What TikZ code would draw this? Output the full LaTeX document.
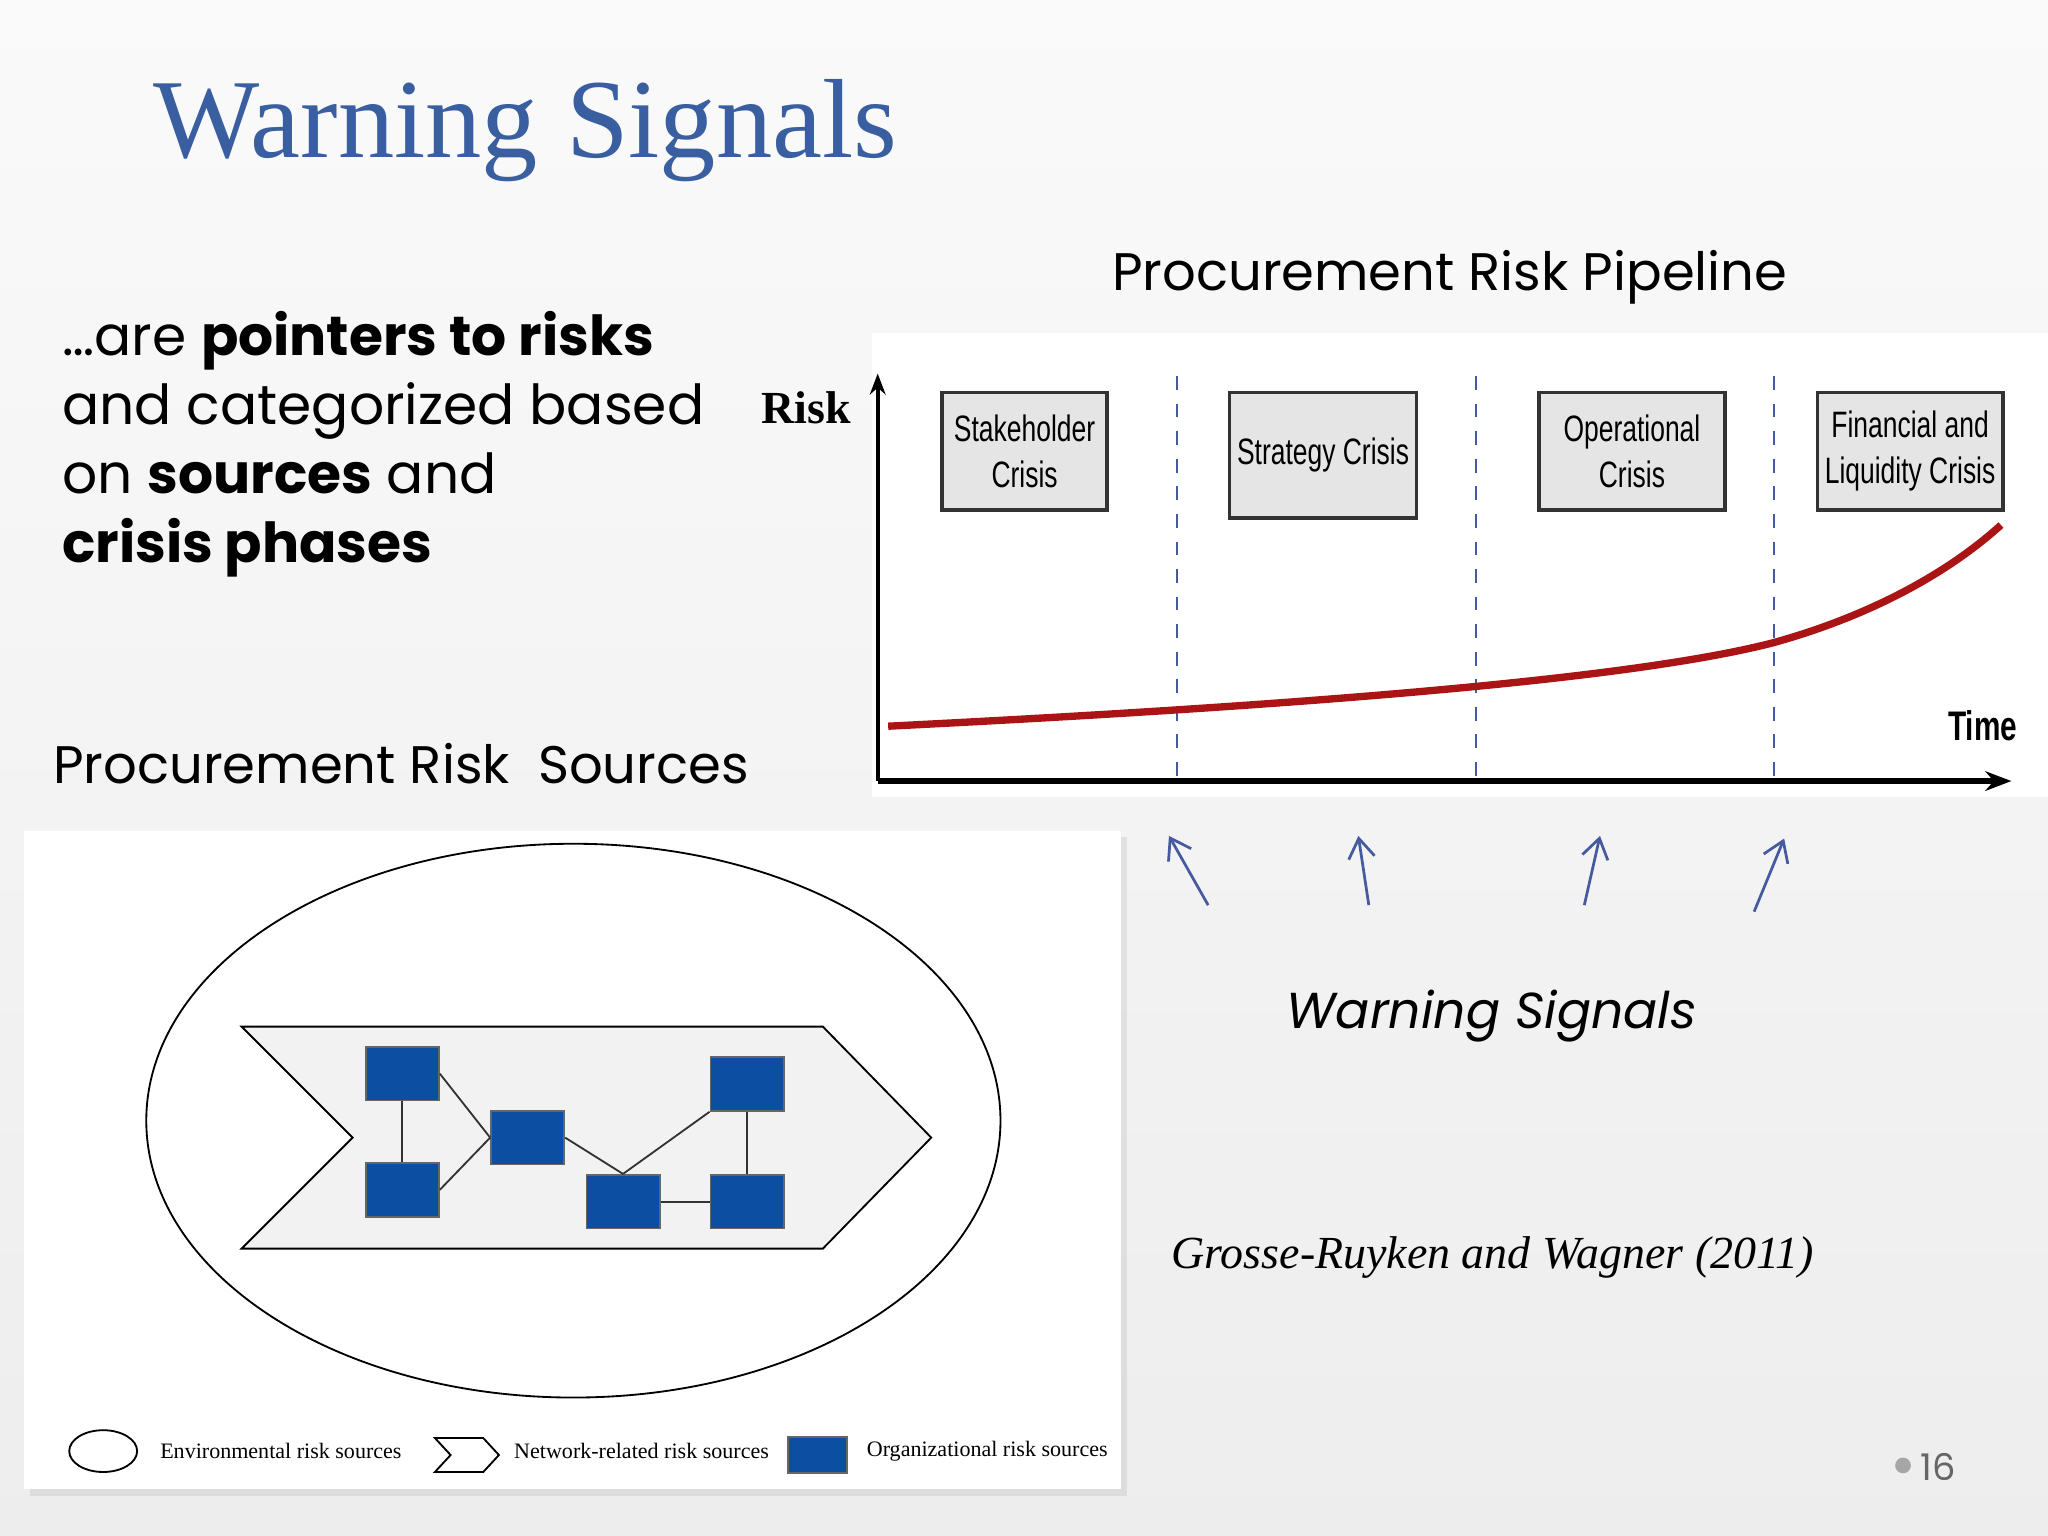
\documentclass[tikz,border=0pt]{standalone}
\usepackage{fontspec}
\setmainfont{Liberation Serif}
\newfontfamily\gothic{Poppins}
\newfontfamily\narrow{Liberation Sans}
\usetikzlibrary{arrows.meta,positioning,calc,shadows}
\definecolor{titleblue}{RGB}{58,95,160}
\definecolor{sqblue}{RGB}{11,78,162}
\definecolor{curvered}{RGB}{170,20,20}
\definecolor{arrowblue}{RGB}{70,90,160}
\newcommand{\cond}[1]{\scalebox{0.72}[1]{#1}}
\tikzset{
  crisis/.style={draw=black!80,fill=gray!20,thick,font=\narrow\fontsize{8}{10}\selectfont,align=center,anchor=north west,inner sep=0pt},
  orgbox/.style={fill=sqblue,draw=black!60,minimum width=0.56cm,minimum height=0.41cm,inner sep=0pt},
  phase/.style={draw=arrowblue,dashed,thin},
  signal/.style={-{Straight Barb[length=1.5mm,width=2mm]},draw=arrowblue,semithick},
  legend/.style={font=\fontsize{4.8}{6}\selectfont,anchor=west,inner sep=0pt},
  link/.style={draw=black!80,thin}
}
\begin{document}
\begin{tikzpicture}[x=0.01cm,y=-0.01cm]
  \useasboundingbox (0,0) rectangle (1568,1176);
  \shade[top color=gray!4,bottom color=gray!14] (0,0) rectangle (1568,1176);

  % Title and left text
  \node[anchor=west,text=titleblue,font=\fontsize{24.5}{28}\selectfont] (title) at (105,100) {Warning Signals};
  \node[anchor=north west,font=\gothic\fontsize{12}{15}\selectfont,align=left,inner sep=0pt] (intro) at (47,238)
    {\dots are \textbf{pointers to risks}\\and categorized based\\on \textbf{sources} and\\\textbf{crisis phases}};

  % Pipeline chart
  \fill[white] (668,255) rectangle (1568,610);
  \node[font=\gothic\fontsize{11.5}{13}\selectfont] (pipetitle) at (1110,212) {Procurement Risk Pipeline};
  \coordinate (origin) at (672,598);
  \coordinate (ytop) at (672,286);
  \coordinate (xend) at (1540,598);
  \draw[-{Stealth[length=1.6mm]},thick] (origin) -- (ytop);
  \draw[-{Stealth[length=2mm]},very thick] (origin) -- (xend);
  \node[font=\bfseries\fontsize{10}{12}\selectfont,anchor=east] (risk) at (664,312) {Risk};
  \node[font=\narrow\bfseries\fontsize{9}{10}\selectfont] (time) at (1518,556) {\cond{Time}};
  \foreach \x in {901,1130,1358}
    \draw[phase] (\x,288) -- (\x,598);
  \node[crisis,minimum width=1.26cm,minimum height=0.9cm] (stake) at (720,299) {\cond{Stakeholder}\\\cond{Crisis}};
  \node[crisis,minimum width=1.43cm,minimum height=0.96cm] (strat) at (940,299) {\cond{Strategy Crisis}};
  \node[crisis,minimum width=1.42cm,minimum height=0.9cm] (oper) at (1177,299) {\cond{Operational}\\\cond{Crisis}};
  \node[crisis,minimum width=1.42cm,minimum height=0.9cm] (fin) at (1390,299) {\cond{Financial and}\\\cond{Liquidity Crisis}};
  \draw[curvered,line width=1.6pt] (680,556) .. controls (1000,540) and (1250,520) .. (1358,492)
    .. controls (1430,472) and (1490,440) .. (1532,402);

  % Warning signal arrows
  \coordinate (s1) at (925,693); \coordinate (t1) at (895,640);
  \coordinate (s2) at (1048,693); \coordinate (t2) at (1040,640);
  \coordinate (s3) at (1213,693); \coordinate (t3) at (1225,640);
  \coordinate (s4) at (1343,698); \coordinate (t4) at (1366,642);
  \foreach \i in {1,...,4}
    \draw[signal] (s\i) -- (t\i);
  \node[font=\gothic\itshape\fontsize{11}{13}\selectfont] (signals) at (1142,778) {Warning Signals};
  \node[font=\itshape\fontsize{10}{12}\selectfont] (cite) at (1143,963) {Grosse-Ruyken and Wagner (2011)};

  % Risk sources panel
  \node[font=\gothic\fontsize{11.5}{13}\selectfont] (srctitle) at (307,585) {Procurement Risk\ \ Sources};
  \fill[white,drop shadow={opacity=0.15,shadow xshift=0.5mm,shadow yshift=-0.5mm}] (18,636) rectangle (858,1140);
  \draw[thin] (439,858) ellipse [x radius=327,y radius=212];
  \draw[thin,fill=gray!10] (185,786) -- (630,786) -- (713,871) -- (630,956) -- (185,956) -- (270,871) -- cycle;
  \node[orgbox] (o1) at (308,822) {};
  \node[orgbox] (o2) at (308,911) {};
  \node[orgbox] (o3) at (404,871) {};
  \node[orgbox] (o4) at (477,920) {};
  \node[orgbox] (o5) at (572,830) {};
  \node[orgbox] (o6) at (572,920) {};
  \draw[link] (o1) -- (o2);
  \draw[link] (o1.east) -- (o3.west);
  \draw[link] (o2.east) -- (o3.west);
  \draw[link] (o3.east) -- (o4.north);
  \draw[link] (o4.north) -- (o5.south west);
  \draw[link] (o4) -- (o6);
  \draw[link] (o5) -- (o6);

  % Legend
  \draw[thin] (79,1111) ellipse [x radius=26,y radius=16];
  \node[legend] (lenv) at (122,1111) {Environmental risk sources};
  \draw[thin] (333,1101) -- (370,1101) -- (382,1114) -- (370,1127) -- (333,1127) -- (345,1114) -- cycle;
  \node[legend] (lnet) at (393,1111) {Network-related risk sources};
  \node[orgbox,minimum width=0.45cm,minimum height=0.27cm] (lorgbox) at (626,1114) {};
  \node[legend] (lorg) at (663,1111) {Organizational risk sources};

  % Page number
  \fill[gray!70] (1457,1122) circle (6);
  \node[font=\gothic\fontsize{8}{10}\selectfont,text=gray!80!black,anchor=west,inner sep=0pt] (page) at (1470,1123) {16};
\end{tikzpicture}
\end{document}
